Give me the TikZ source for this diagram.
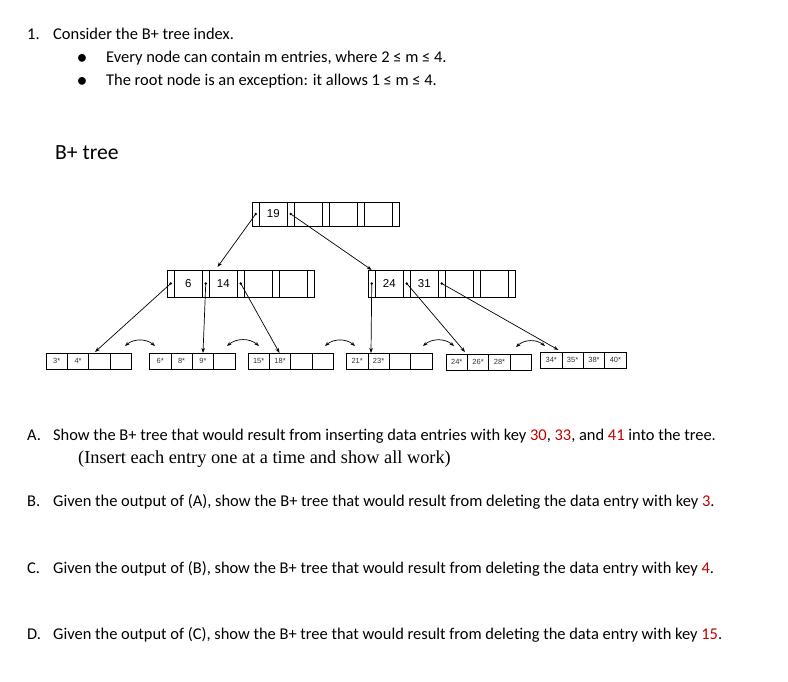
\documentclass[tikz,border=0pt]{standalone}
\usepackage{fontspec}
\setmainfont{Carlito}
\newfontfamily\arialf{Liberation Sans}
\newfontfamily\timesf{Liberation Serif}
\usetikzlibrary{arrows.meta}
\definecolor{keyred}{RGB}{192,0,0}
\tikzset{
  cellbase/.style={draw, line width=0.8bp, outer sep=0pt, inner sep=0pt, anchor=north west,
    font=\arialf\fontsize{11.5}{11.5}\selectfont},
  pcell/.style={cellbase, minimum width=7.5bp},
  kcell/.style={cellbase, minimum width=27.5bp},
  lcell/.style={draw, line width=0.8bp, outer sep=0pt, inner sep=0pt, anchor=north west,
    minimum width=21.4bp, minimum height=16bp, text=black!80,
    font=\arialf\fontsize{7.5}{7.5}\selectfont},
  ptr/.style={line width=0.7bp, -{Stealth[length=5bp,width=3.6bp]}},
  sib/.style={line width=0.7bp, {Stealth[length=4.5bp,width=3.4bp]}-{Stealth[length=4.5bp,width=3.4bp]}},
  txt/.style={anchor=base west, inner sep=0pt, font=\fontsize{16.5}{19}\selectfont},
  dot/.style={circle, fill=black, inner sep=0pt, minimum size=2.6bp},
}
\newcommand\bidx[6]{%
  \node[pcell, minimum height=#4] (#1-p1) at (#2,#3) {};
  \node[kcell, minimum height=#4] (#1-k1) at (#1-p1.north east) {#5};
  \node[pcell, minimum height=#4] (#1-p2) at (#1-k1.north east) {};
  \node[kcell, minimum height=#4] (#1-k2) at (#1-p2.north east) {#6};
  \node[pcell, minimum height=#4] (#1-p3) at (#1-k2.north east) {};
  \node[kcell, minimum height=#4] (#1-k3) at (#1-p3.north east) {};
  \node[pcell, minimum height=#4] (#1-p4) at (#1-k3.north east) {};
  \node[kcell, minimum height=#4] (#1-k4) at (#1-p4.north east) {};
  \node[pcell, minimum height=#4] (#1-p5) at (#1-k4.north east) {};
}
\newcommand\bleaf[7]{%
  \node[lcell] (#1-a) at (#2,#3) {#4};
  \node[lcell] (#1-b) at (#1-a.north east) {#5};
  \node[lcell] (#1-c) at (#1-b.north east) {#6};
  \node[lcell] (#1-d) at (#1-c.north east) {#7};
}
\begin{document}
\begin{tikzpicture}[x=1bp, y=-1bp]
\useasboundingbox[fill=white] (0,0) rectangle (788,682);

% header text
\node[txt] (n1) at (27,40) {1.};
\node[txt] (t1) at (53,40) {Consider the B+ tree index.};
\node[txt, font=\fontsize{22}{22}\selectfont] (bu1) at (76.5,65) {•};
\node[txt] (t2) at (106,63) {Every node can contain m entries, where 2 ≤ m ≤ 4.};
\node[txt, font=\fontsize{22}{22}\selectfont] (bu2) at (76.5,88) {•};
\node[txt] (t3) at (106,86) {The root node is an exception: it allows 1 ≤ m ≤ 4.};
\node[txt, font=\fontsize{21.7}{26}\selectfont] (bt) at (55,159) {B+ tree};

% index nodes
\bidx{R}{252}{202}{24bp}{19}{}
\bidx{A}{167}{270}{27bp}{6}{14}
\bidx{B}{368}{270}{27bp}{24}{31}

% leaves
\bleaf{L1}{46}{353}{3*}{4*}{}{}
\bleaf{L2}{149.5}{353}{6*}{8*}{9*}{}
\bleaf{L3}{248}{353}{15*}{18*}{}{}
\bleaf{L4}{346.5}{353}{21*}{23*}{}{}
\bleaf{L5}{446}{354}{24*}{26*}{28*}{}
\bleaf{L6}{540.5}{352}{34*}{35*}{38*}{40*}

% pointer dots
\foreach \n in {R-p1,R-p2,A-p1,A-p2,A-p3,B-p1,B-p2,B-p3}{\node[dot] at (\n.center) {};}

% targets
\coordinate (tA) at (217.5,267);
\coordinate (t1) at (95,352);
\coordinate (t2) at (203,353);
\coordinate (t3) at (279.5,353);
\coordinate (t4) at (371,353);
\coordinate (t5) at (465,352);
\coordinate (t6) at (558.5,350);

\draw[ptr] (R-p1.center) -- (tA);
\draw[ptr] (R-p2.center) -- (B-p1.north);
\draw[ptr] (A-p1.center) -- (t1);
\draw[ptr] (A-p2.center) -- (t2);
\draw[ptr] (A-p3.center) -- (t3);
\draw[ptr] (B-p1.center) -- (t4);
\draw[ptr] (B-p2.center) -- (t5);
\draw[ptr] (B-p3.center) -- (t6);

% sibling arcs
\coordinate (s1a) at (125,346); \coordinate (s1b) at (155,346);
\coordinate (s2a) at (227,346); \coordinate (s2b) at (259,346);
\coordinate (s3a) at (325,346); \coordinate (s3b) at (355,346);
\coordinate (s4a) at (423,346); \coordinate (s4b) at (454,346);
\coordinate (s5a) at (516,347); \coordinate (s5b) at (545,346);
\draw[sib] (s1a) to[bend left=40] (s1b);
\draw[sib] (s2a) to[bend left=40] (s2b);
\draw[sib] (s3a) to[bend left=40] (s3b);
\draw[sib] (s4a) to[bend left=40] (s4b);
\draw[sib] (s5a) to[bend left=40] (s5b);

% questions
\node[txt] (qa) at (27,440) {A.};
\node[txt] (qat) at (53,440) {Show the B+ tree that would result from inserting data entries with key \textcolor{keyred}{30}, \textcolor{keyred}{33}, and \textcolor{keyred}{41} into the tree.};
\node[txt, font=\timesf\fontsize{18.4}{22}\selectfont] (qai) at (78,463) {(Insert each entry one at a time and show all work)};
\node[txt] (qb) at (27,506) {B.};
\node[txt] (qbt) at (53,506) {Given the output of (A), show the B+ tree that would result from deleting the data entry with key \textcolor{keyred}{3}.};
\node[txt] (qc) at (27,573) {C.};
\node[txt] (qct) at (53,573) {Given the output of (B), show the B+ tree that would result from deleting the data entry with key \textcolor{keyred}{4}.};
\node[txt] (qd) at (27,639) {D.};
\node[txt] (qdt) at (53,639) {Given the output of (C), show the B+ tree that would result from deleting the data entry with key \textcolor{keyred}{15}.};
\end{tikzpicture}
\end{document}
